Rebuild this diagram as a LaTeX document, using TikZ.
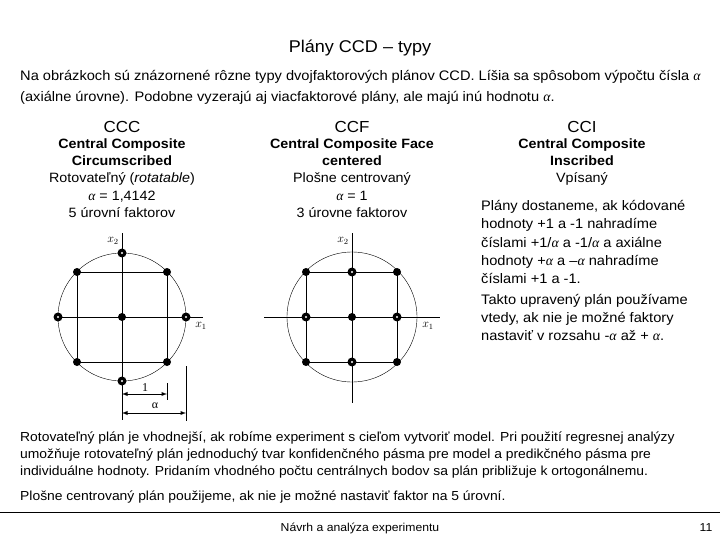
\documentclass[tikz,border=0pt]{standalone}
\usepackage{fontspec}
\setmainfont[FakeStretch=1.06]{Liberation Sans}
\newfontfamily\serifm{Liberation Serif}
\newcommand{\al}{{\serifm\itshape α}}
\begin{document}
\begin{tikzpicture}[x=1pt,y=-1pt,
  fix/.style={inner sep=0pt,text height=10pt,text depth=3pt},
  txt/.style={fix,anchor=west,font=\fontsize{13.8}{14}\selectfont},
  btxt/.style={fix,anchor=west,font=\fontsize{13.1}{14}\selectfont},
  ctr/.style={fix,font=\fontsize{13.5}{14}\selectfont},
  bld/.style={fix,font=\fontsize{13.5}{14}\selectfont\bfseries},
  hd/.style={inner sep=0pt,font=\fontsize{16}{17}\selectfont},
  dot/.style={circle,fill=black,inner sep=0pt,minimum size=8pt},
  ring/.style={circle,fill=black,inner sep=0pt,minimum size=9pt,path picture={\fill[white] (path picture bounding box.center) circle (1.2pt);}},
  axis/.style={line width=0.6pt},
  dim/.style={latex-latex,line width=0.9pt},
  lab/.style={inner sep=0pt,font=\serifm\fontsize{12}{14}\selectfont}]
\useasboundingbox (0,0) rectangle (720,540);
\node[inner sep=0pt,font=\fontsize{17}{18}\selectfont] (title) at (360,48) {Plány CCD -- typy};
\node[txt] (l1) at (20,77) {Na obrázkoch sú znázornené rôzne typy dvojfaktorových plánov CCD. Líšia sa spôsobom výpočtu čísla \al};
\node[txt] (l2) at (20,98) {(axiálne úrovne). Podobne vyzerajú aj viacfaktorové plány, ale majú inú hodnotu \al.};
% columns
\node[hd] (h1) at (122,127) {CCC};
\node[bld] (a1) at (122,145) {Central Composite};
\node[bld] (a2) at (122,162) {Circumscribed};
\node[ctr] (a3) at (122,179) {Rotovateľný (\textit{rotatable})};
\node[ctr] (a4) at (122,197) {\al\ = 1,4142};
\node[ctr] (a5) at (122,214) {5 úrovní faktorov};
\node[hd] (h2) at (352,127) {CCF};
\node[bld] (b1) at (352,145) {Central Composite Face};
\node[bld] (b2) at (352,162) {centered};
\node[ctr] (b3) at (352,179) {Plošne centrovaný};
\node[ctr] (b4) at (352,197) {\al\ = 1};
\node[ctr] (b5) at (352,214) {3 úrovne faktorov};
\node[hd] (h3) at (582,127) {CCI};
\node[bld] (c1) at (582,145) {Central Composite};
\node[bld] (c2) at (582,162) {Inscribed};
\node[ctr] (c3) at (582,179) {Vpísaný};
\node[txt] (c4a) at (481,207) {Plány dostaneme, ak kódované};
\node[txt] (c4b) at (481,225) {hodnoty +1 a -1 nahradíme};
\node[txt] (c4c) at (481,244) {číslami +1/\al\ a -1/\al\ a axiálne};
\node[txt] (c4d) at (481,262) {hodnoty +\al\ a --\al\ nahradíme};
\node[txt] (c4e) at (481,280) {číslami +1 a -1.};
\node[txt] (c5a) at (481,301) {Takto upravený plán používame};
\node[txt] (c5b) at (481,319) {vtedy, ak nie je možné faktory};
\node[txt] (c5c) at (481,337) {nastaviť v rozsahu -\al\ až + \al.};
% CCC diagram
\coordinate (o1) at (122,317);
\draw[thin] (o1) circle (64);
\draw[axis] (77,272) rectangle (167,362);
\draw[axis] (57,317) -- (203,317);
\draw[axis] (122,233) -- (122,420);
\node[lab] (x2a) at (113,241) {$x_2$};
\node[lab] (x1a) at (201,326) {$x_1$};
\foreach \p in {(77,272),(167,272),(77,362),(167,362),(122,317)} \node[dot] at \p {};
\foreach \p in {(122,253),(122,381),(58,317),(186,317)} \node[ring] at \p {};
\coordinate (d0) at (122,394); \coordinate (d1) at (167,394);
\coordinate (e0) at (122,413); \coordinate (e1) at (186,413);
\draw[thin] (167,383) -- (167,400);
\draw[thin] (186,366) -- (186,421);
\draw[dim] (d0) -- (d1);
\draw[dim] (e0) -- (e1);
\node[lab] (one) at (145,388) {1};
\node[lab] (alp) at (155,406) {α};
% CCF diagram
\coordinate (o2) at (352,317);
\draw[thin] (o2) circle (65);
\draw[axis] (306,272) rectangle (397,362);
\draw[axis] (264,317) -- (440,317);
\draw[axis] (352,233) -- (352,403);
\node[lab] (x2b) at (343,241) {$x_2$};
\node[lab] (x1b) at (428,326) {$x_1$};
\foreach \p in {(306,272),(397,272),(306,362),(397,362),(352,317)} \node[dot] at \p {};
\foreach \p in {(352,272),(352,362),(306,317),(397,317)} \node[ring] at \p {};
% bottom text
\node[btxt] (p1) at (20,438) {Rotovateľný plán je vhodnejší, ak robíme experiment s cieľom vytvoriť model. Pri použití regresnej analýzy};
\node[btxt] (p1b) at (20,455) {umožňuje rotovateľný plán jednoduchý tvar konfidenčného pásma pre model a predikčného pásma pre};
\node[btxt] (p1c) at (20,472) {individuálne hodnoty. Pridaním vhodného počtu centrálnych bodov sa plán približuje k ortogonálnemu.};
\node[btxt] (p2) at (20,497) {Plošne centrovaný plán použijeme, ak nie je možné nastaviť faktor na 5 úrovní.};
\coordinate (fl) at (0,512); \coordinate (fr) at (720,512);
\draw[line width=0.8pt] (fl) -- (fr);
\node[inner sep=0pt,font=\fontsize{11.5}{13}\selectfont] (ft) at (360,528) {Návrh a analýza experimentu};
\node[inner sep=0pt,font=\fontsize{11.5}{13}\selectfont] (pg) at (706,528) {11};
\end{tikzpicture}
\end{document}
